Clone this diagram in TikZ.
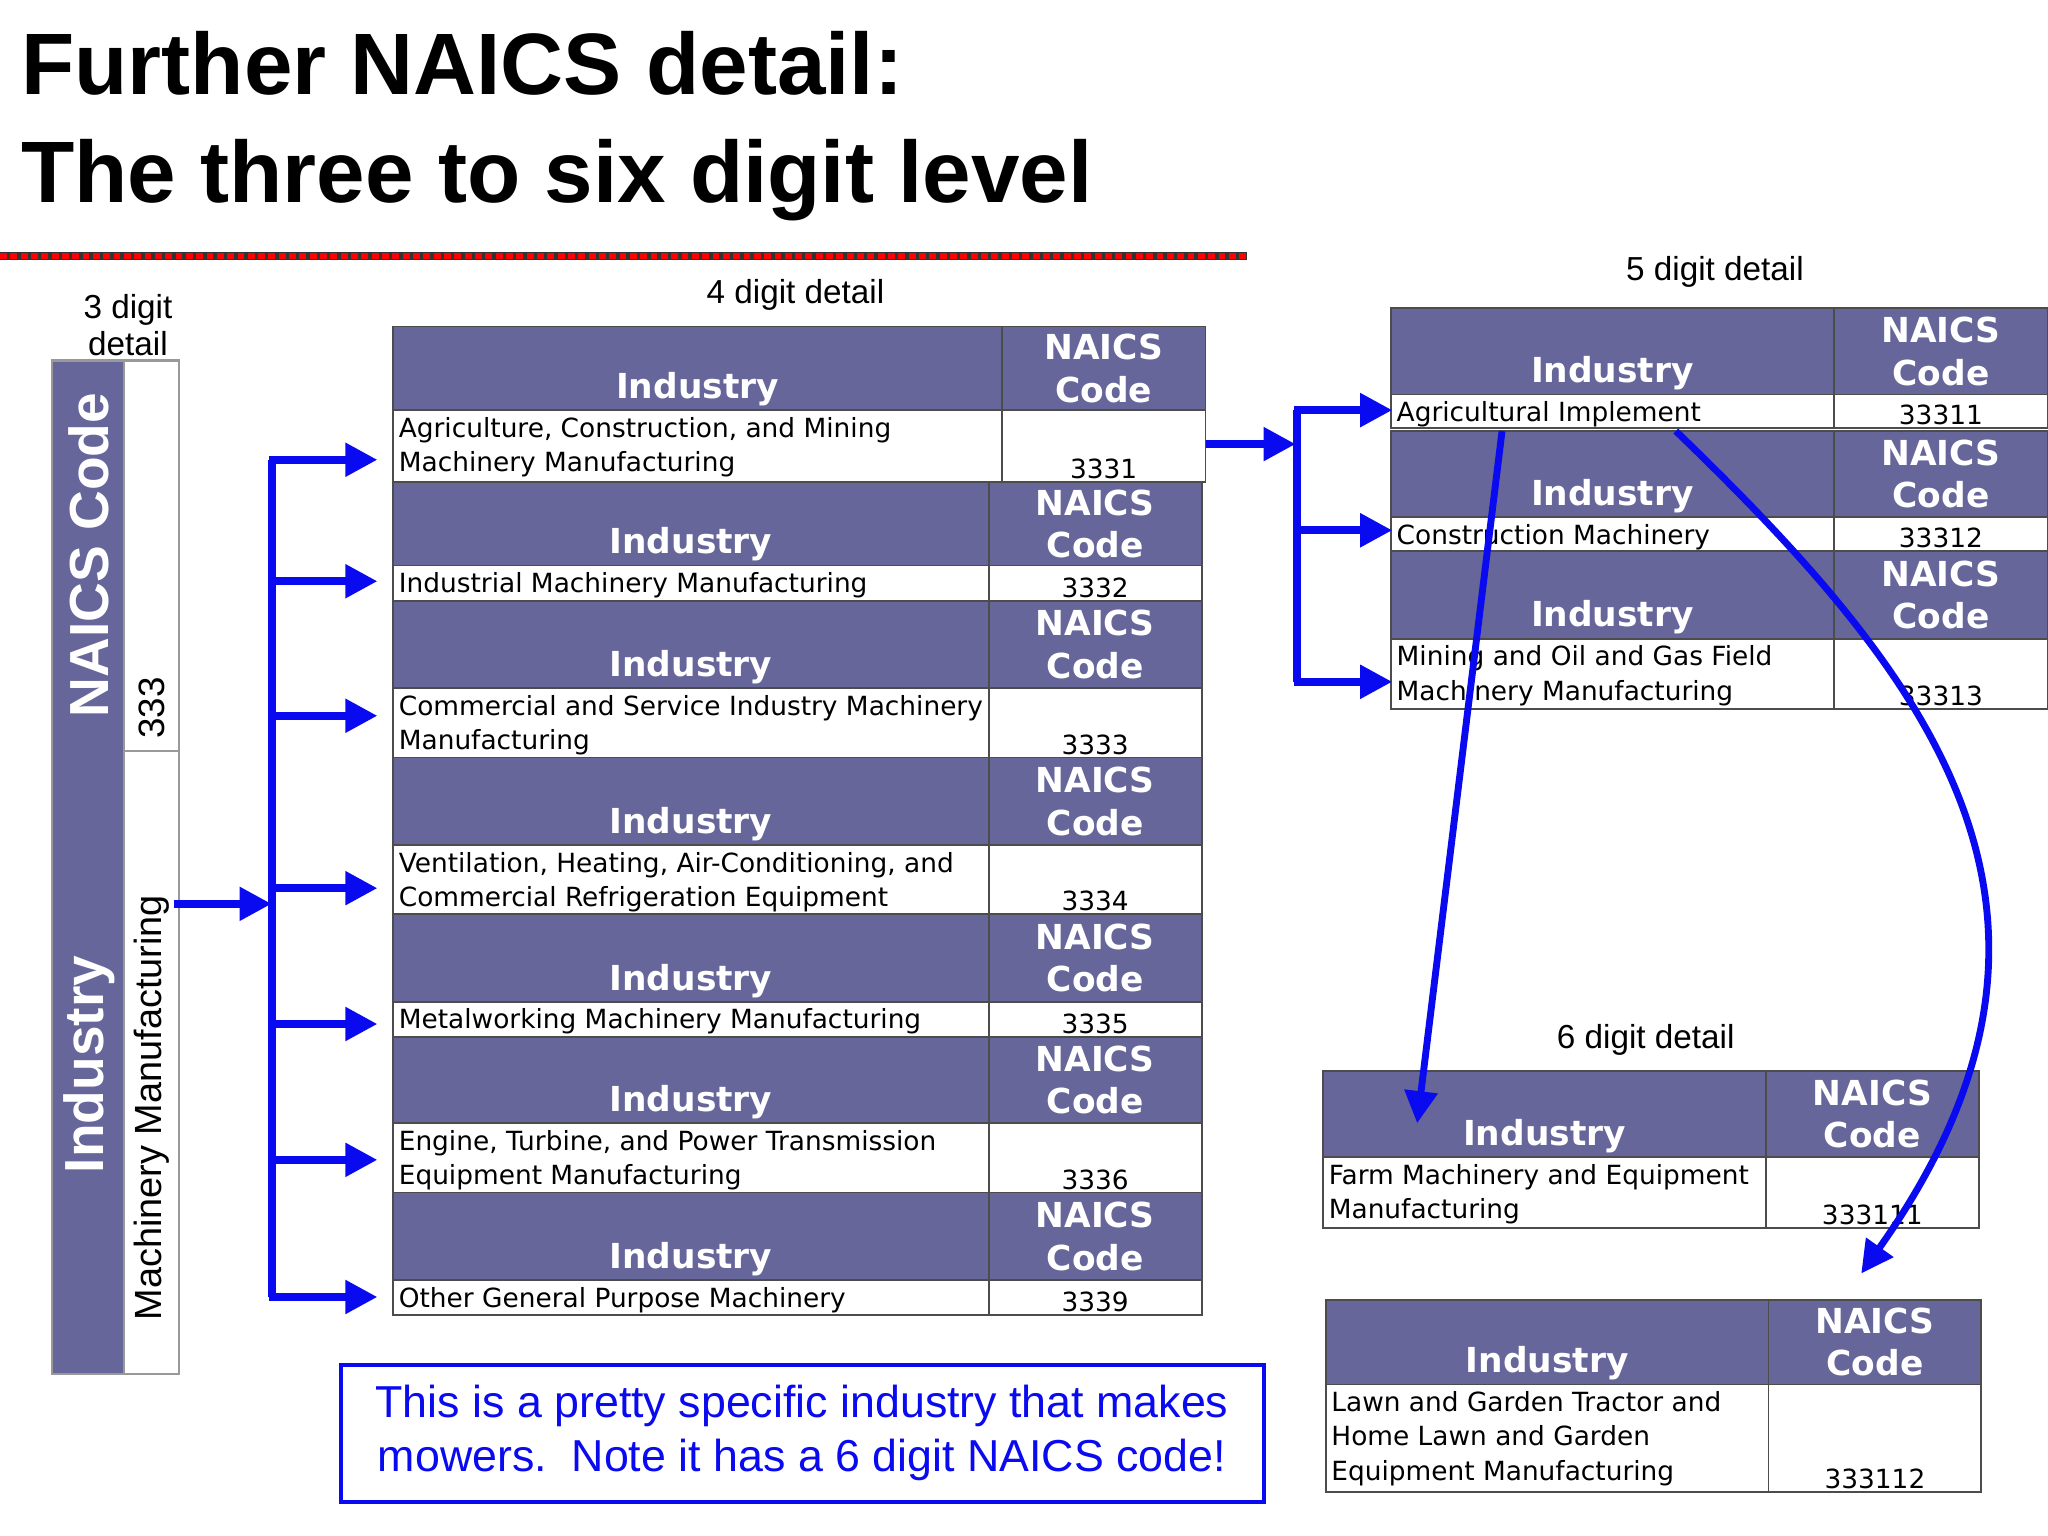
\documentclass[tikz,border=0pt]{standalone}
\usepackage{fontspec}
\setmainfont{Liberation Sans}
\newfontfamily\vf{DejaVu Sans}
\usetikzlibrary{arrows.meta}
\definecolor{hdr}{HTML}{66669A}
\definecolor{ab}{HTML}{0A0AF0}
\tikzset{
 hd/.style={fill=hdr,draw=black!70,line width=0.8pt},
 bd/.style={fill=white,draw=black!70,line width=0.8pt},
 htxt/.style={text=white,font=\vf\bfseries\fontsize{15}{18.5}\selectfont,align=center,inner sep=0pt},
 btxt/.style={font=\vf\fontsize{11.5}{15}\selectfont,align=left,inner sep=0pt,anchor=north west},
 ctxt/.style={font=\vf\fontsize{11.5}{14}\selectfont,inner sep=0pt,anchor=south},
 arr/.style={draw=ab,line width=3.4pt,-{Triangle[length=14pt,width=14pt]}},
 ln/.style={draw=ab,line width=3.4pt},
 lbl/.style={font=\fontsize{14.5}{16}\selectfont,align=center,inner sep=0pt}
}
% #1 name, #2 x1, #3 xs, #4 x2, #5 yh, #6 yb, #7 ye, #8 text, #9 code
\newcommand\tbl[9]{%
 \fill[hd] (#2,#5) rectangle (#4,#6);
 \draw[hd] (#2,#5) rectangle (#3,#6);
 \draw[bd] (#2,#6) rectangle (#3,#7);
 \draw[bd] (#3,#6) rectangle (#4,#7);
 \node[htxt,anchor=south] (#1i) at ({(#2+#3)/2},{#6-3}) {Industry};
 \node[htxt] (#1n) at ({(#3+#4)/2},{(#5+#6)/2}) {NAICS\\Code};
 \node[btxt] (#1t) at ({#2+4},{#6+5}) {#8};
 \node[ctxt] (#1c) at ({(#3+#4)/2},{#7-2}) {#9};
}
\begin{document}
\begin{tikzpicture}[x=0.02cm,y=-0.02cm]
\useasboundingbox (0,0) rectangle (1568,1176);
\node[anchor=north west,align=left,inner sep=0pt,font=\bfseries\fontsize{38}{47}\selectfont] (title) at (16,24) {Further NAICS detail:\\The three to six digit level};
\draw[black!80,line width=3.4pt] (0,196) -- (955,196);
\draw[red,line width=2.6pt,dash pattern=on 3pt off 1.5pt] (0,196) -- (955,196);
% left box
\fill[hdr] (40,276) rectangle (95,1052);
\draw[black!40,line width=1pt] (40,276) rectangle (137,1052);
\draw[black!40,line width=1pt] (95,276) -- (95,1052) (95,575) -- (137,575);
\node[lbl] (d3) at (98,249) {3 digit\\detail};
\node[rotate=90,text=white,font=\bfseries\fontsize{24}{24}\selectfont,inner sep=0pt] (nc) at (68,425) {NAICS Code};
\node[rotate=90,font=\fontsize{16}{16}\selectfont,inner sep=0pt] (c333) at (116,542) {333};
\node[rotate=90,text=white,font=\bfseries\fontsize{24}{24}\selectfont,inner sep=0pt] (ind) at (68,815) {Industry};
\node[rotate=90,font=\fontsize{16.5}{16}\selectfont,inner sep=0pt] (mm) at (116,848) {Machinery Manufacturing};
\coordinate (lb) at (133,692);
% 4 digit
\node[lbl] (d4) at (609,226) {4 digit detail};
\tbl{a}{301}{767}{923}{250}{314}{369}{Agriculture, Construction, and Mining\\Machinery Manufacturing}{3331}
\tbl{b}{301}{757}{920}{369}{433}{460}{Industrial Machinery Manufacturing}{3332}
\tbl{c}{301}{757}{920}{460}{527}{580}{Commercial and Service Industry Machinery\\Manufacturing}{3333}
\tbl{d}{301}{757}{920}{580}{647}{700}{Ventilation, Heating, Air-Conditioning, and\\Commercial Refrigeration Equipment}{3334}
\tbl{e}{301}{757}{920}{700}{767}{794}{Metalworking Machinery Manufacturing}{3335}
\tbl{f}{301}{757}{920}{794}{860}{913}{Engine, Turbine, and Power Transmission\\Equipment Manufacturing}{3336}
\tbl{g}{301}{757}{920}{913}{980}{1007}{Other General Purpose Machinery}{3339}
% 5 digit
\node[lbl] (d5) at (1313,208) {5 digit detail};
\tbl{p}{1065}{1404}{1568}{236}{302}{328}{Agricultural Implement}{33311}
\tbl{q}{1065}{1404}{1568}{330}{396}{422}{Construction Machinery}{33312}
\tbl{r}{1065}{1404}{1568}{422}{489}{543}{Mining and Oil and Gas Field\\Machinery Manufacturing}{33313}
% 6 digit
\node[lbl] (d6) at (1260,796) {6 digit detail};
\tbl{s}{1013}{1352}{1515}{820}{886}{940}{Farm Machinery and Equipment\\Manufacturing}{333111}
\tbl{u}{1015}{1354}{1517}{995}{1060}{1142}{Lawn and Garden Tractor and\\Home Lawn and Garden\\Equipment Manufacturing}{333112}
% arrows 3->4
\coordinate (v1) at (208,352); \coordinate (v2) at (208,993);
\draw[arr] (lb) -- (208,692);
\draw[ln] (v1) -- (v2);
\foreach \y in {352,445,548,680,784,888,993} \draw[arr] (206,\y) -- (289,\y);
% arrows 4->5
\draw[arr] (923,340) -- (992,340);
\draw[ln] (993,314) -- (993,522);
\foreach \y in {314,406,522} \draw[arr] (991,\y) -- (1066,\y);
% arrows 5->6
\coordinate (pa) at (1150,330); \coordinate (pb) at (1283,330);
\draw[arr,line width=3pt] (pa) -- (1085,860);
\draw[arr,line width=3pt] (pb) .. controls (1480,520) and (1620,700) .. (1425,975);
% note
\draw[ab,line width=1.8pt] (261,1045) rectangle (968,1150);
\node[text=ab,align=center,inner sep=0pt,font=\fontsize{19.5}{23.5}\selectfont] (note) at (614,1097) {This is a pretty specific industry that makes\\mowers.\ \ Note it has a 6 digit NAICS code!};
\end{tikzpicture}
\end{document}
